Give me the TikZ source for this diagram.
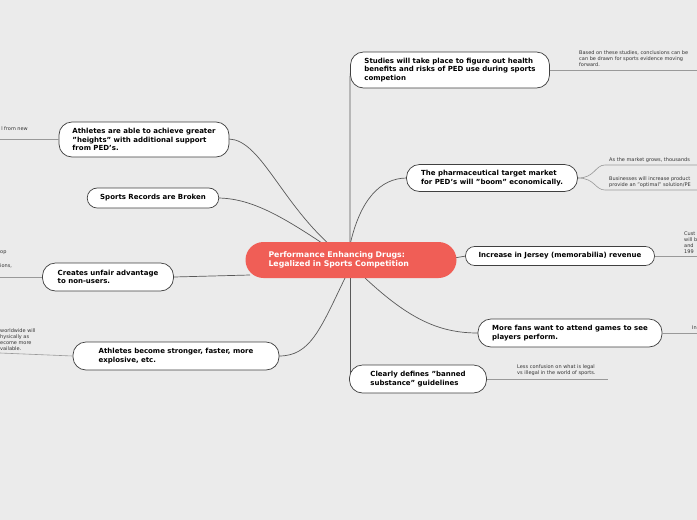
\documentclass[tikz,border=0pt]{standalone}
\usepackage{fontspec}
\setmainfont{DejaVu Sans}
\begin{document}
\begin{tikzpicture}[x=1pt,y=-1pt,
 topic/.style={draw=black!75,fill=white,rounded corners=13pt,line width=0.7pt,font=\bfseries\fontsize{7}{8.5}\selectfont,align=left,inner xsep=13pt,anchor=center},
 note/.style={font=\fontsize{5}{6}\selectfont,align=left,text=black!80,inner sep=0pt},
 con/.style={draw=black!65,line width=0.7pt},
 sub/.style={draw=black!40,line width=0.6pt}]
\fill[black!8] (0,0) rectangle (697,520);
\clip (0,0) rectangle (697,520);
% connectors
\path[con] (330,245) .. controls (280,200) and (260,140) .. (229,139) coordinate (c1);
\path[con] (325,245) .. controls (280,215) and (250,198) .. (217,198);
\path[con] (250,275) -- (174,277);
\path[con] (345,278) .. controls (320,330) and (310,356) .. (279,356);
\path[con] (350,245) -- (350,85) .. controls (350,75) and (350,70) .. (352,70);
\path[con] (350,245) .. controls (360,200) and (380,178) .. (407,178);
\path[con] (454,258) -- (466,256);
\path[con] (365,278) .. controls (410,320) and (440,333) .. (478,333);
\path[con] (350,278) -- (350,379);
% nodes
\node[topic,fill={rgb,255:red,240;green,94;blue,86},draw=none,text=white,minimum width=211pt,minimum height=36pt,rounded corners=18pt,font=\bfseries\fontsize{7.8}{9.5}\selectfont,text width=165pt,inner xsep=0pt] (c) at (351,260) {Performance Enhancing Drugs:\\Legalized in Sports Competition};
\node[topic,minimum width=199pt,minimum height=36pt] (s1) at (450,70) {Studies will take place to figure out health\\benefits and risks of PED use during sports\\competion};
\node[topic,minimum width=171pt,minimum height=27pt] (s2) at (492,178) {The pharmaceutical target market\\for PED's will "boom" economically.};
\node[topic,minimum width=188pt,minimum height=19pt,rounded corners=9pt] (s3) at (560,256) {Increase in Jersey (memorabilia) revenue};
\node[topic,minimum width=184pt,minimum height=28pt] (s4) at (570,333) {More fans want to attend games to see\\players perform.};
\node[topic,minimum width=137pt,minimum height=28pt] (s5) at (418,379) {Clearly defines "banned\\substance" guidelines};
\node[topic,minimum width=170pt,minimum height=35pt] (l1) at (144,139.5) {Athletes are able to achieve greater\\"heights" with additional support\\from PED's.};
\node[topic,minimum width=128pt,minimum height=20pt,rounded corners=10pt] (l2) at (153,198) {Sports Records are Broken};
\node[topic,minimum width=131pt,minimum height=28pt] (l3) at (108,277) {Creates unfair advantage\\to non-users.};
\node[topic,minimum width=206pt,minimum height=28pt] (l4) at (176,356) {Athletes become stronger, faster, more\\explosive, etc.};
% subtopics
\path[sub] (s1.east) -- (697,70);
\node[note,anchor=south west] at (579,67) {Based on these studies, conclusions can be\\can be drawn for sports evidence moving\\forward.};
\path[sub] (s2.east) .. controls (595,178) and (595,165) .. (605,165) -- (697,165);
\path[sub] (s2.east) .. controls (595,178) and (595,190) .. (605,190) -- (697,190);
\node[note,anchor=south west] at (609,163) {As the market grows, thousands};
\node[note,anchor=south west] at (609,188) {Businesses will increase product\\provide an "optimal" solution/PE};
\path[sub] (s3.east) -- (697,256);
\node[note,anchor=south west] at (684,254) {Cust\\will b\\and\\199};
\path[sub] (s4.east) -- (697,333);
\node[note,anchor=south west] at (692,330) {In};
\path[sub] (s5.east) -- (608,379);
\node[note,anchor=south west] at (517,376) {Less confusion on what is legal\\vs illegal in the world of sports.};
\path[sub] (l1.west) -- (0,139.5);
\node[note,anchor=south east] at (28,131) {l from new};
\path[sub] (l3.west) -- (0,277);
\node[note,anchor=south west] at (0,255) {op};
\node[note,anchor=south west] at (0,268) {ions,};
\path[sub] (l4.west) -- (0,353);
\node[note,anchor=south west] at (0,351) { worldwide will\\hysically as\\ecome more\\vailable.};
\end{tikzpicture}
\end{document}
